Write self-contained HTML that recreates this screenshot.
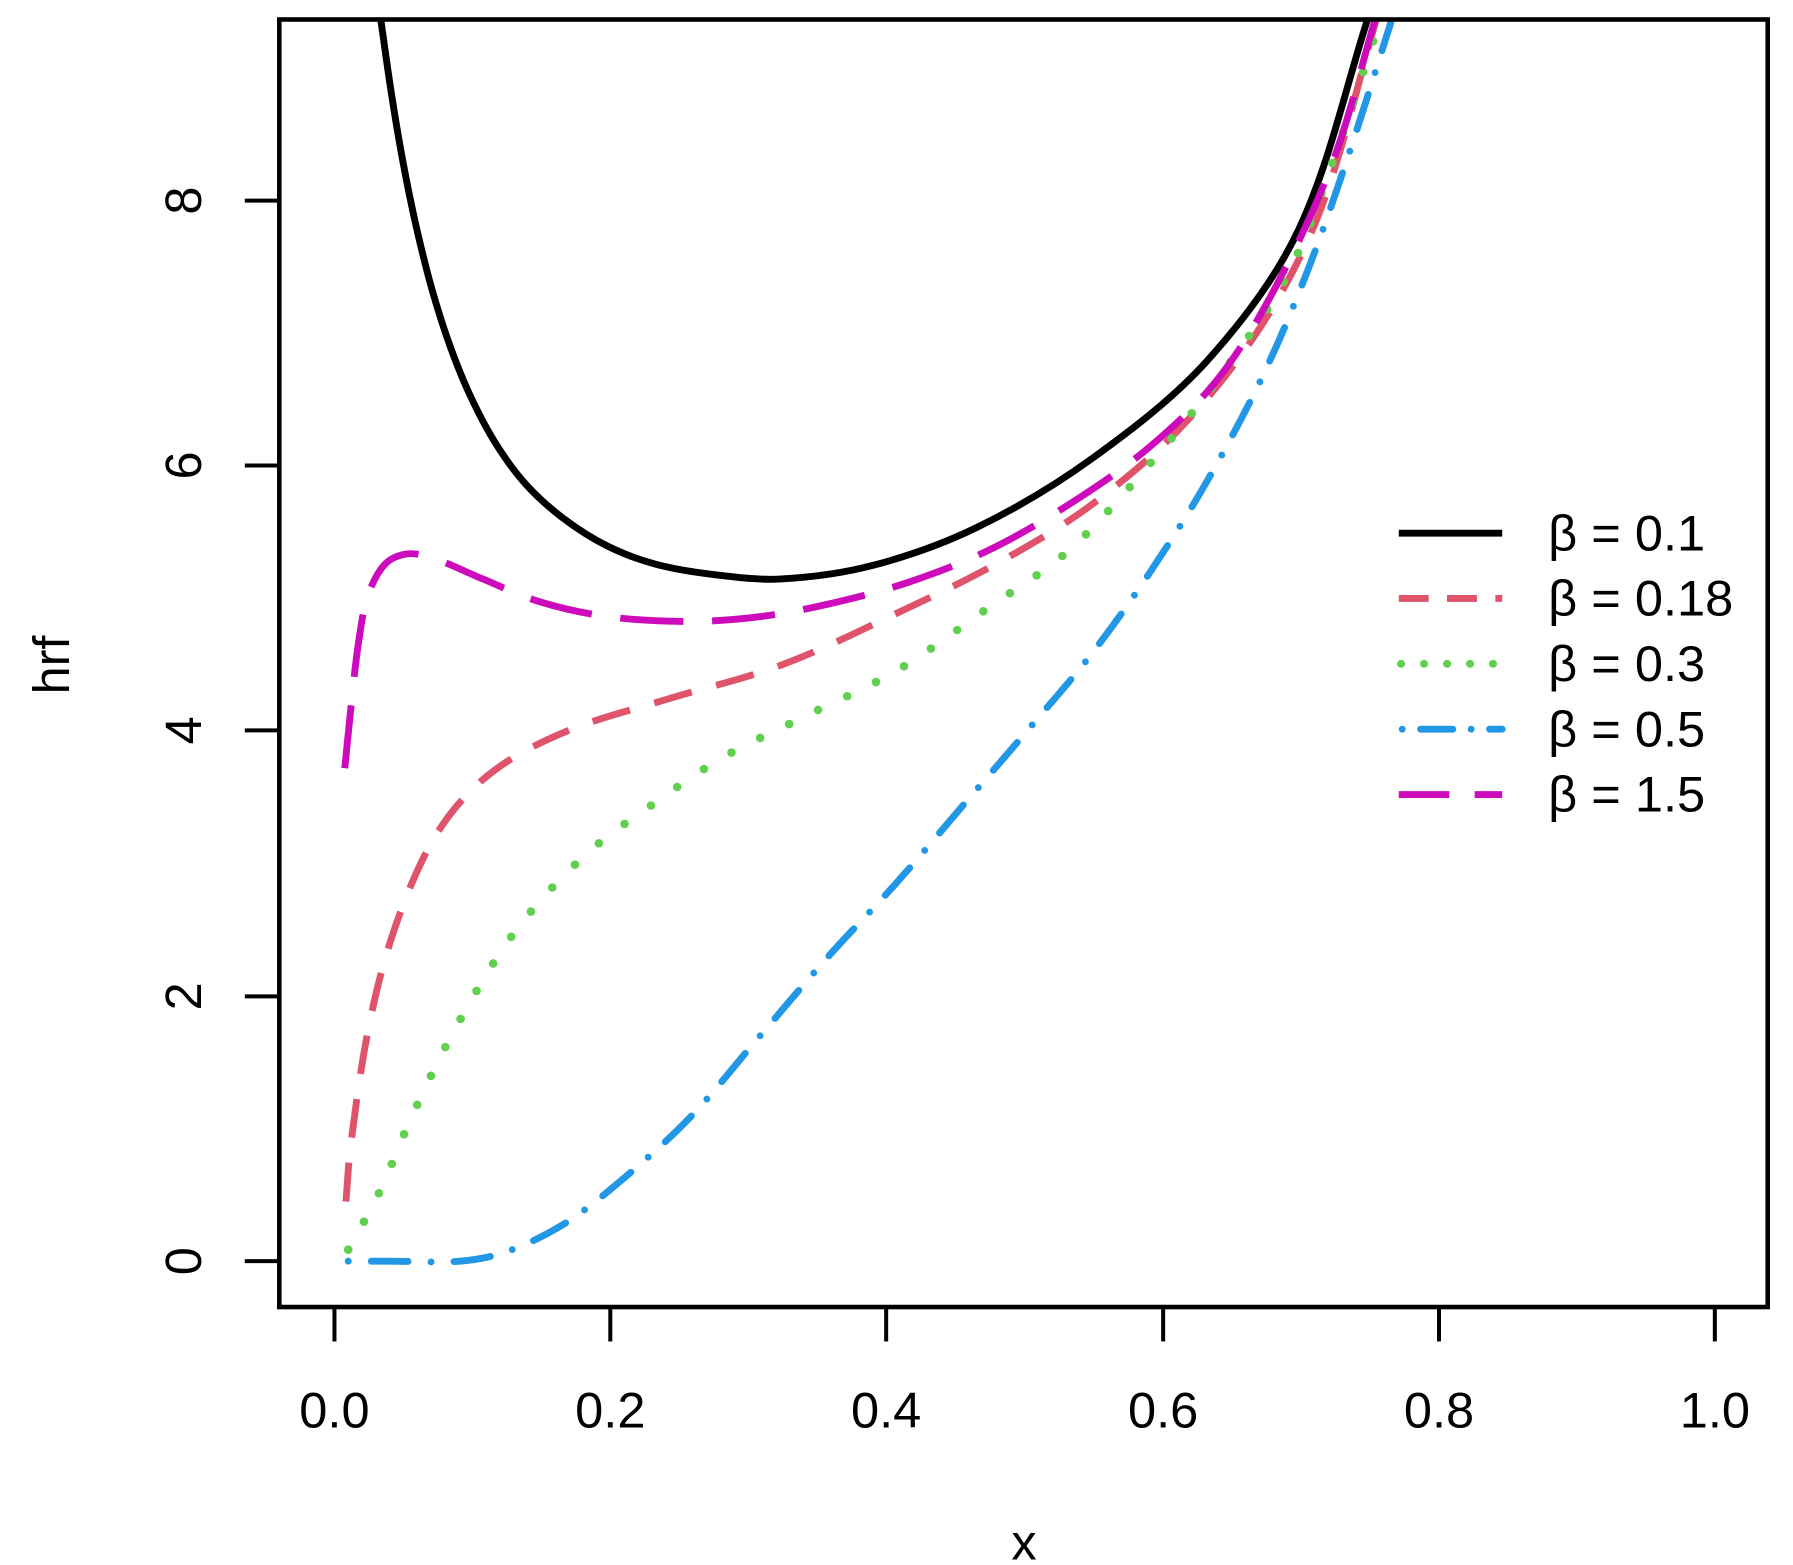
<!DOCTYPE html>
<html><head><meta charset="utf-8"><style>
html,body{margin:0;padding:0;background:#fff}
svg{display:block}
text{font-family:"Liberation Sans",Arial,sans-serif;fill:#000}
</style></head><body>
<svg id="s" width="1793" height="1565" viewBox="0 0 1560 1365" preserveAspectRatio="none" xmlns="http://www.w3.org/2000/svg">
<defs><clipPath id="cp"><rect x="243" y="17" width="1295" height="1123"/></clipPath></defs>
<rect x="0" y="0" width="1560" height="1365" fill="#fff"/>
<g id="curves" fill="none" stroke-linejoin="round" clip-path="url(#cp)"></g>
<rect x="243" y="17" width="1295" height="1123" fill="none" stroke="#000" stroke-width="4"/>
<g stroke="#000" stroke-width="3.5">
<line x1="291" y1="1140" x2="1492" y2="1140"/>
<line x1="291" y1="1140" x2="291" y2="1170"/>
<line x1="531" y1="1140" x2="531" y2="1170"/>
<line x1="771" y1="1140" x2="771" y2="1170"/>
<line x1="1012" y1="1140" x2="1012" y2="1170"/>
<line x1="1252" y1="1140" x2="1252" y2="1170"/>
<line x1="1492" y1="1140" x2="1492" y2="1170"/>
<line x1="243" y1="1100" x2="243" y2="175"/>
<line x1="243" y1="1100" x2="213" y2="1100"/>
<line x1="243" y1="869" x2="213" y2="869"/>
<line x1="243" y1="637" x2="213" y2="637"/>
<line x1="243" y1="406" x2="213" y2="406"/>
<line x1="243" y1="175" x2="213" y2="175"/>
</g>
<g font-size="44" text-anchor="middle">
<text x="291" y="1245">0.0</text>
<text x="531" y="1245">0.2</text>
<text x="771" y="1245">0.4</text>
<text x="1012" y="1245">0.6</text>
<text x="1252" y="1245">0.8</text>
<text x="1492" y="1245">1.0</text>
<text transform="translate(175,1100) rotate(-90)">0</text>
<text transform="translate(175,869) rotate(-90)">2</text>
<text transform="translate(175,637) rotate(-90)">4</text>
<text transform="translate(175,406) rotate(-90)">6</text>
<text transform="translate(175,175) rotate(-90)">8</text>
<text x="891" y="1360">x</text>
<text transform="translate(60,580) rotate(-90)">hrf</text>
</g>
<g stroke-width="6" stroke-linecap="butt">
<line x1="1217" y1="465" x2="1307" y2="465" stroke="#000"/>
<line x1="1217" y1="522" x2="1307" y2="522" stroke="#DF536B" stroke-dasharray="26,16"/>
<line x1="1219" y1="579" x2="1307" y2="579" stroke="#61D04F" stroke-dasharray="0,20" stroke-linecap="round" stroke-width="7"/>
<line x1="1220" y1="636" x2="1307" y2="636" stroke="#2297E6" stroke-dasharray="0,16,28,16" stroke-linecap="round"/>
<line x1="1217" y1="693" x2="1307" y2="693" stroke="#CD0BBC" stroke-dasharray="44,22"/>
</g>
<g font-size="44">
<text x="1347" y="480">β = 0.1</text>
<text x="1347" y="537">β = 0.18</text>
<text x="1347" y="594">β = 0.3</text>
<text x="1347" y="651">β = 0.5</text>
<text x="1347" y="708">β = 1.5</text>
</g>
</svg>
<script>
function path(p){
var n=p.length,d=[],m=[];
for(var i=0;i<n-1;i++)d.push(Math.hypot(p[i+1][0]-p[i][0],p[i+1][1]-p[i][1]));
for(var i=0;i<n;i++){
 if(i==0)m.push([(p[1][0]-p[0][0])/d[0],(p[1][1]-p[0][1])/d[0]]);
 else if(i==n-1)m.push([(p[i][0]-p[i-1][0])/d[i-1],(p[i][1]-p[i-1][1])/d[i-1]]);
 else{var s=d[i-1]+d[i];m.push([(p[i+1][0]-p[i-1][0])/s,(p[i+1][1]-p[i-1][1])/s]);}
}
var r="M"+p[0][0]+","+p[0][1];
for(var i=0;i<n-1;i++){var L=d[i]/3;
r+=" C"+(p[i][0]+m[i][0]*L)+","+(p[i][1]+m[i][1]*L)+" "+(p[i+1][0]-m[i+1][0]*L)+","+(p[i+1][1]-m[i+1][1]*L)+" "+p[i+1][0]+","+p[i+1][1];}
return r;}
var S=[
{c:"#000",w:6,da:"",cap:"round",p:[[329.5,5],[331,15],[340,78],[350,138],[362,197],[376,253],[392,303],[410,347],[432,388],[458,423],[490,452],[528,476],[570,492],[620,501],[680,505],[760,493],[850,460],[950,400],[1050,315],[1130,200],[1192,10]]},
{c:"#DF536B",w:6,da:"34,22",cap:"butt",p:[[301,1048],[305,1000],[320,900],[340,820],[370,745],[400,700],[440,665],[500,635],[580,610],[680,580],[780,535],[870,490],[950,440],[1030,370],[1100,280],[1150,180],[1198,15]]},
{c:"#61D04F",w:7.5,da:"0,28",cap:"round",p:[[303,1090],[330,1040],[360,970],[400,890],[450,810],[510,745],[570,700],[630,660],[700,625],[780,585],[860,530],[930,480],[1000,405],[1060,330],[1120,240],[1160,140],[1200,20]]},
{c:"#2297E6",w:6,da:"0,20,32,20",cap:"round",p:[[303,1100],[340,1100],[400,1100],[440,1092],[490,1068],[540,1030],[600,975],[660,905],[720,835],[780,770],[840,700],[900,630],[950,570],[1000,500],[1050,420],[1100,325],[1140,230],[1175,130],[1210,20]]},
{c:"#CD0BBC",w:6,da:"55,25",cap:"butt",p:[[300,670],[305,620],[312,560],[320,520],[335,492],[355,483],[380,488],[420,505],[470,525],[530,538],[600,542],[660,538],[720,527],[790,508],[860,480],[930,440],[1000,390],[1060,330],[1110,250],[1160,140],[1197,15]]}];
var g=document.getElementById("curves");
S.forEach(function(s){var e=document.createElementNS("http://www.w3.org/2000/svg","path");e.setAttribute("d",path(s.p));e.setAttribute("stroke",s.c);e.setAttribute("stroke-width",s.w);e.setAttribute("stroke-linecap",s.cap);if(s.da)e.setAttribute("stroke-dasharray",s.da);g.appendChild(e);});
</script>
</body></html>
